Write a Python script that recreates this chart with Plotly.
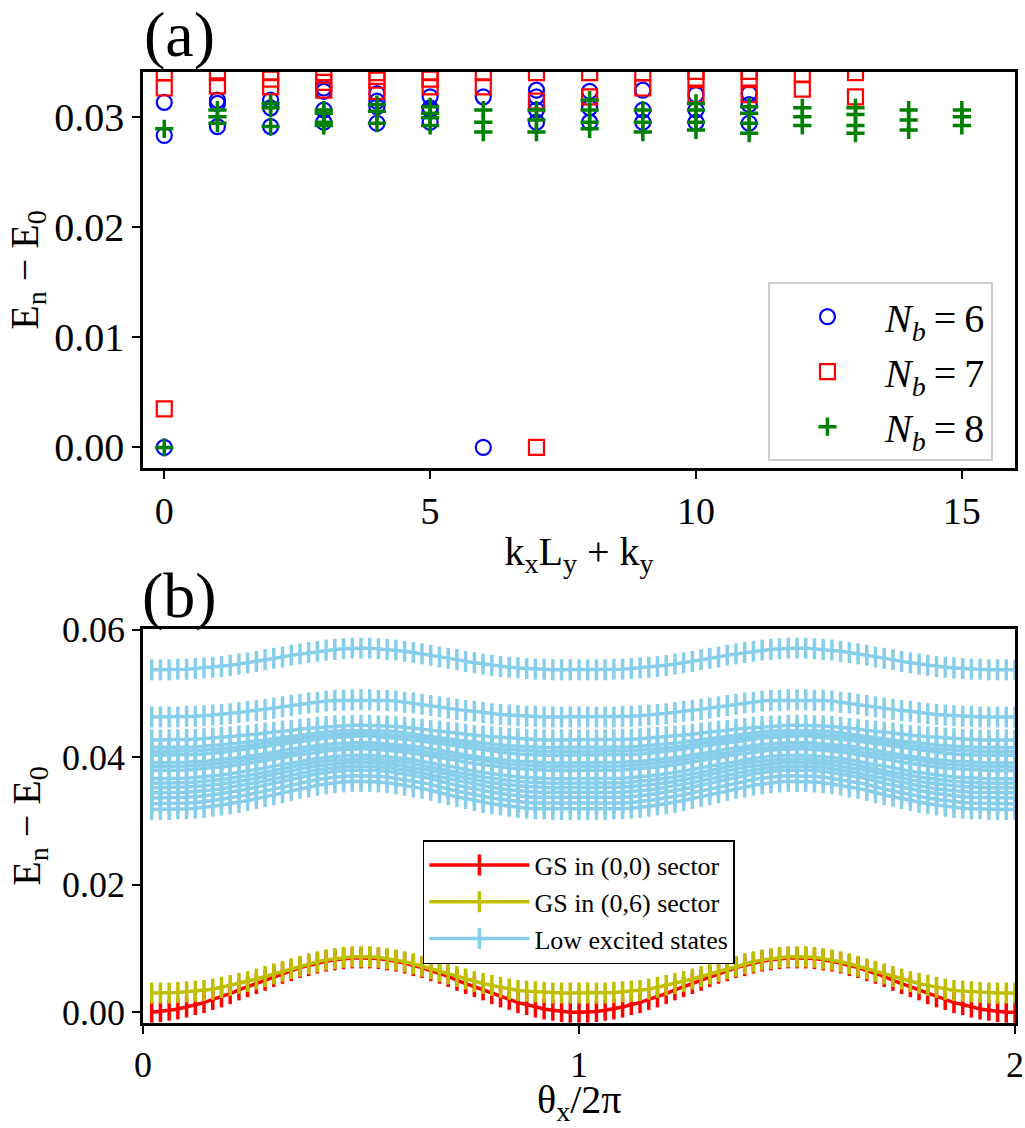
import plotly.graph_objects as go

# ---------------- Panel (a): E_n - E_0 vs k_x L_y + k_y ----------------
k_nb6 = [0, 0, 0, 1, 1, 1, 2, 2, 2, 3, 3, 3, 3, 4, 4, 4, 4, 5, 5, 5, 5, 6, 6,
         7, 7, 7, 7, 8, 8, 8, 9, 9, 9, 10, 10, 10, 11, 11, 11]
e_nb6 = [0.0313, 0.0283, 0.0000, 0.0315, 0.0312, 0.0291, 0.0315, 0.0308, 0.0291,
         0.0326, 0.0323, 0.0306, 0.0295, 0.0321, 0.0314, 0.0309, 0.0294,
         0.0318, 0.0308, 0.0306, 0.0295, 0.0318, 0.0000,
         0.0324, 0.0318, 0.0306, 0.0295, 0.0323, 0.0308, 0.0295,
         0.0324, 0.0306, 0.0295, 0.0320, 0.0306, 0.0295, 0.0321, 0.0311, 0.0294]

k_nb7 = [0, 0, 0, 1, 1, 2, 2, 2, 3, 3, 3, 4, 4, 4, 5, 5, 5, 6, 6, 7, 7, 7,
         8, 8, 9, 9, 10, 10, 10, 11, 11, 11, 12, 12, 13, 13]
e_nb7 = [0.0340, 0.0326, 0.0035, 0.0340, 0.0328, 0.0340, 0.0334, 0.0327,
         0.0340, 0.0331, 0.0324, 0.0340, 0.0333, 0.0323, 0.0340, 0.0334, 0.0327,
         0.0340, 0.0327, 0.0340, 0.0314, 0.0000, 0.0340, 0.0318, 0.0340, 0.0326,
         0.0341, 0.0335, 0.0320, 0.0341, 0.0335, 0.0320, 0.0338, 0.0325,
         0.0340, 0.0318]

k_nb8 = [0, 0, 1, 1, 1, 2, 2, 2, 3, 3, 3, 3, 4, 4, 4, 5, 5, 5, 5, 6, 6, 6,
         7, 7, 7, 8, 8, 8, 8, 9, 9, 9, 10, 10, 10, 10, 11, 11, 11, 11,
         12, 12, 12, 13, 13, 13, 13, 14, 14, 14, 15, 15, 15]
e_nb8 = [0.0289, 0.0000, 0.0306, 0.0300, 0.0294, 0.0312, 0.0308, 0.0291,
         0.0306, 0.0303, 0.0295, 0.0292, 0.0311, 0.0305, 0.0294,
         0.0309, 0.0303, 0.0299, 0.0292, 0.0306, 0.0295, 0.0286,
         0.0306, 0.0297, 0.0286, 0.0315, 0.0306, 0.0295, 0.0289,
         0.0306, 0.0295, 0.0286, 0.0312, 0.0306, 0.0295, 0.0288,
         0.0309, 0.0303, 0.0294, 0.0285, 0.0308, 0.0300, 0.0292,
         0.0308, 0.0302, 0.0292, 0.0285, 0.0306, 0.0297, 0.0288,
         0.0306, 0.0300, 0.0292]

# ---------------- Panel (b): E_n - E_0 vs theta_x / 2pi ----------------
# flux points theta_x/2pi = 0.02, 0.04, ..., 2.00
theta = [round(0.02 * i, 2) for i in range(1, 101)]

# energies, in units of 1e-4
gs_00 = [0, 1, 3, 5, 8, 12, 15, 20, 24, 29, 35, 40, 45, 50, 56, 61, 65, 70, 73, 77, 80, 82, 84, 85, 85,
         85, 84, 82, 80, 77, 73, 70, 65, 61, 56, 50, 45, 40, 35, 29, 24, 20, 15, 12, 8, 5, 3, 1, 0, 0,
         0, 1, 3, 5, 8, 12, 15, 20, 24, 29, 35, 40, 45, 50, 56, 61, 65, 70, 73, 77, 80, 82, 84, 85, 85,
         85, 84, 82, 80, 77, 73, 70, 65, 61, 56, 50, 45, 40, 35, 29, 24, 20, 15, 12, 8, 5, 3, 1, 0, 0]
gs_06 = [30, 30, 30, 31, 32, 33, 34, 36, 39, 42, 45, 48, 52, 56, 60, 64, 68, 72, 76, 79, 82, 84, 86, 87, 87,
         87, 86, 84, 82, 79, 76, 72, 68, 64, 60, 56, 52, 48, 45, 42, 39, 36, 34, 33, 32, 31, 30, 30, 30, 30,
         30, 30, 30, 31, 32, 33, 34, 36, 39, 42, 45, 48, 52, 56, 60, 64, 68, 72, 76, 79, 82, 84, 86, 87, 87,
         87, 86, 84, 82, 79, 76, 72, 68, 64, 60, 56, 52, 48, 45, 42, 39, 36, 34, 33, 32, 31, 30, 30, 30, 30]
exc_1 = [537, 537, 537, 538, 538, 539, 540, 541, 542, 544, 546, 548, 550, 553, 555, 557, 560, 562, 564, 566, 568, 569, 570, 571, 571,
         571, 570, 569, 568, 566, 564, 562, 560, 557, 555, 553, 550, 548, 546, 544, 542, 541, 540, 539, 538, 538, 537, 537, 537, 537,
         537, 537, 537, 538, 538, 539, 540, 541, 542, 544, 546, 548, 550, 553, 555, 557, 560, 562, 564, 566, 568, 569, 570, 571, 571,
         571, 570, 569, 568, 566, 564, 562, 560, 557, 555, 553, 550, 548, 546, 544, 542, 541, 540, 539, 538, 538, 537, 537, 537, 537]
exc_2 = [463, 463, 463, 463, 464, 464, 465, 466, 467, 468, 470, 472, 473, 475, 477, 479, 481, 483, 485, 486, 488, 489, 489, 490, 490,
         490, 489, 489, 488, 486, 485, 483, 481, 479, 477, 475, 473, 472, 470, 468, 467, 466, 465, 464, 464, 463, 463, 463, 463, 463,
         463, 463, 463, 463, 464, 464, 465, 466, 467, 468, 470, 472, 473, 475, 477, 479, 481, 483, 485, 486, 488, 489, 489, 490, 490,
         490, 489, 489, 488, 486, 485, 483, 481, 479, 477, 475, 473, 472, 470, 468, 467, 466, 465, 464, 464, 463, 463, 463, 463, 463]
exc_3 = [427, 427, 427, 427, 428, 428, 429, 430, 431, 432, 433, 434, 436, 438, 439, 441, 442, 444, 445, 447, 448, 449, 449, 450, 450,
         450, 449, 449, 448, 447, 445, 444, 442, 441, 439, 438, 436, 434, 433, 432, 431, 430, 429, 428, 428, 427, 427, 427, 427, 427,
         427, 427, 427, 427, 428, 428, 429, 430, 431, 432, 433, 434, 436, 438, 439, 441, 442, 444, 445, 447, 448, 449, 449, 450, 450,
         450, 449, 449, 448, 447, 445, 444, 442, 441, 439, 438, 436, 434, 433, 432, 431, 430, 429, 428, 428, 427, 427, 427, 427, 427]
exc_4 = [415, 415, 415, 415, 416, 416, 417, 418, 419, 420, 422, 424, 425, 427, 429, 431, 433, 435, 437, 438, 440, 441, 441, 442, 442,
         442, 441, 441, 440, 438, 437, 435, 433, 431, 429, 427, 425, 424, 422, 420, 419, 418, 417, 416, 416, 415, 415, 415, 415, 415,
         415, 415, 415, 415, 416, 416, 417, 418, 419, 420, 422, 424, 425, 427, 429, 431, 433, 435, 437, 438, 440, 441, 441, 442, 442,
         442, 441, 441, 440, 438, 437, 435, 433, 431, 429, 427, 425, 424, 422, 420, 419, 418, 417, 416, 416, 415, 415, 415, 415, 415]
exc_5 = [409, 409, 409, 409, 410, 410, 411, 412, 413, 415, 416, 418, 420, 422, 424, 426, 428, 430, 432, 433, 434, 436, 436, 437, 437,
         437, 436, 436, 434, 433, 432, 430, 428, 426, 424, 422, 420, 418, 416, 415, 413, 412, 411, 410, 410, 409, 409, 409, 409, 409,
         409, 409, 409, 409, 410, 410, 411, 412, 413, 415, 416, 418, 420, 422, 424, 426, 428, 430, 432, 433, 434, 436, 436, 437, 437,
         437, 436, 436, 434, 433, 432, 430, 428, 426, 424, 422, 420, 418, 416, 415, 413, 412, 411, 410, 410, 409, 409, 409, 409, 409]
exc_6 = [403, 403, 403, 403, 404, 404, 405, 406, 408, 409, 411, 413, 415, 417, 419, 421, 423, 425, 427, 429, 430, 431, 432, 433, 433,
         433, 432, 431, 430, 429, 427, 425, 423, 421, 419, 417, 415, 413, 411, 409, 408, 406, 405, 404, 404, 403, 403, 403, 403, 403,
         403, 403, 403, 403, 404, 404, 405, 406, 408, 409, 411, 413, 415, 417, 419, 421, 423, 425, 427, 429, 430, 431, 432, 433, 433,
         433, 432, 431, 430, 429, 427, 425, 423, 421, 419, 417, 415, 413, 411, 409, 408, 406, 405, 404, 404, 403, 403, 403, 403, 403]
exc_7 = [391, 391, 391, 391, 392, 393, 393, 395, 396, 397, 399, 401, 403, 406, 408, 410, 413, 415, 417, 419, 420, 421, 422, 423, 423,
         423, 422, 421, 420, 419, 417, 415, 413, 410, 408, 406, 403, 401, 399, 397, 396, 395, 393, 393, 392, 391, 391, 391, 391, 391,
         391, 391, 391, 391, 392, 393, 393, 395, 396, 397, 399, 401, 403, 406, 408, 410, 413, 415, 417, 419, 420, 421, 422, 423, 423,
         423, 422, 421, 420, 419, 417, 415, 413, 410, 408, 406, 403, 401, 399, 397, 396, 395, 393, 393, 392, 391, 391, 391, 391, 391]
exc_8 = [385, 385, 385, 386, 386, 387, 388, 389, 390, 392, 394, 396, 398, 400, 402, 405, 407, 409, 412, 413, 415, 416, 417, 418, 418,
         418, 417, 416, 415, 413, 412, 409, 407, 405, 402, 400, 398, 396, 394, 392, 390, 389, 388, 387, 386, 386, 385, 385, 385, 385,
         385, 385, 385, 386, 386, 387, 388, 389, 390, 392, 394, 396, 398, 400, 402, 405, 407, 409, 412, 413, 415, 416, 417, 418, 418,
         418, 417, 416, 415, 413, 412, 409, 407, 405, 402, 400, 398, 396, 394, 392, 390, 389, 388, 387, 386, 386, 385, 385, 385, 385]
exc_9 = [379, 379, 379, 380, 380, 381, 382, 383, 384, 386, 388, 390, 392, 395, 397, 399, 402, 404, 406, 408, 410, 411, 412, 413, 413,
         413, 412, 411, 410, 408, 406, 404, 402, 399, 397, 395, 392, 390, 388, 386, 384, 383, 382, 381, 380, 380, 379, 379, 379, 379,
         379, 379, 379, 380, 380, 381, 382, 383, 384, 386, 388, 390, 392, 395, 397, 399, 402, 404, 406, 408, 410, 411, 412, 413, 413,
         413, 412, 411, 410, 408, 406, 404, 402, 399, 397, 395, 392, 390, 388, 386, 384, 383, 382, 381, 380, 380, 379, 379, 379, 379]
exc_10 = [366, 366, 366, 367, 367, 368, 369, 370, 372, 374, 376, 378, 380, 383, 386, 388, 391, 393, 396, 398, 400, 401, 402, 403, 403,
          403, 402, 401, 400, 398, 396, 393, 391, 388, 386, 383, 380, 378, 376, 374, 372, 370, 369, 368, 367, 367, 366, 366, 366, 366,
          366, 366, 366, 367, 367, 368, 369, 370, 372, 374, 376, 378, 380, 383, 386, 388, 391, 393, 396, 398, 400, 401, 402, 403, 403,
          403, 402, 401, 400, 398, 396, 393, 391, 388, 386, 383, 380, 378, 376, 374, 372, 370, 369, 368, 367, 367, 366, 366, 366, 366]
exc_11 = [359, 359, 359, 360, 360, 361, 362, 363, 365, 367, 369, 371, 374, 376, 379, 382, 385, 387, 390, 392, 394, 395, 396, 397, 397,
          397, 396, 395, 394, 392, 390, 387, 385, 382, 379, 376, 374, 371, 369, 367, 365, 363, 362, 361, 360, 360, 359, 359, 359, 359,
          359, 359, 359, 360, 360, 361, 362, 363, 365, 367, 369, 371, 374, 376, 379, 382, 385, 387, 390, 392, 394, 395, 396, 397, 397,
          397, 396, 395, 394, 392, 390, 387, 385, 382, 379, 376, 374, 371, 369, 367, 365, 363, 362, 361, 360, 360, 359, 359, 359, 359]
exc_12 = [352, 352, 352, 353, 353, 354, 355, 356, 358, 360, 362, 365, 367, 370, 373, 376, 379, 382, 384, 386, 388, 390, 391, 392, 392,
          392, 391, 390, 388, 386, 384, 382, 379, 376, 373, 370, 367, 365, 362, 360, 358, 356, 355, 354, 353, 353, 352, 352, 352, 352,
          352, 352, 352, 353, 353, 354, 355, 356, 358, 360, 362, 365, 367, 370, 373, 376, 379, 382, 384, 386, 388, 390, 391, 392, 392,
          392, 391, 390, 388, 386, 384, 382, 379, 376, 373, 370, 367, 365, 362, 360, 358, 356, 355, 354, 353, 353, 352, 352, 352, 352]
exc_13 = [344, 344, 344, 345, 345, 346, 347, 349, 350, 353, 355, 357, 360, 363, 366, 369, 372, 375, 378, 380, 382, 384, 385, 386, 386,
          386, 385, 384, 382, 380, 378, 375, 372, 369, 366, 363, 360, 357, 355, 353, 350, 349, 347, 346, 345, 345, 344, 344, 344, 344,
          344, 344, 344, 345, 345, 346, 347, 349, 350, 353, 355, 357, 360, 363, 366, 369, 372, 375, 378, 380, 382, 384, 385, 386, 386,
          386, 385, 384, 382, 380, 378, 375, 372, 369, 366, 363, 360, 357, 355, 353, 350, 349, 347, 346, 345, 345, 344, 344, 344, 344]
exc_14 = [336, 336, 336, 337, 337, 338, 339, 341, 343, 345, 347, 350, 353, 356, 359, 362, 366, 369, 371, 374, 376, 378, 379, 380, 380,
          380, 379, 378, 376, 374, 371, 369, 366, 362, 359, 356, 353, 350, 347, 345, 343, 341, 339, 338, 337, 337, 336, 336, 336, 336,
          336, 336, 336, 337, 337, 338, 339, 341, 343, 345, 347, 350, 353, 356, 359, 362, 366, 369, 371, 374, 376, 378, 379, 380, 380,
          380, 379, 378, 376, 374, 371, 369, 366, 362, 359, 356, 353, 350, 347, 345, 343, 341, 339, 338, 337, 337, 336, 336, 336, 336]
exc_15 = [327, 327, 327, 328, 328, 329, 330, 332, 334, 336, 338, 341, 344, 347, 350, 353, 357, 360, 362, 365, 367, 369, 370, 371, 371,
          371, 370, 369, 367, 365, 362, 360, 357, 353, 350, 347, 344, 341, 338, 336, 334, 332, 330, 329, 328, 328, 327, 327, 327, 327,
          327, 327, 327, 328, 328, 329, 330, 332, 334, 336, 338, 341, 344, 347, 350, 353, 357, 360, 362, 365, 367, 369, 370, 371, 371,
          371, 370, 369, 367, 365, 362, 360, 357, 353, 350, 347, 344, 341, 338, 336, 334, 332, 330, 329, 328, 328, 327, 327, 327, 327]
exc_16 = [318, 318, 318, 319, 319, 320, 321, 323, 325, 327, 329, 332, 335, 338, 341, 344, 348, 351, 353, 356, 358, 360, 361, 362, 362,
          362, 361, 360, 358, 356, 353, 351, 348, 344, 341, 338, 335, 332, 329, 327, 325, 323, 321, 320, 319, 319, 318, 318, 318, 318,
          318, 318, 318, 319, 319, 320, 321, 323, 325, 327, 329, 332, 335, 338, 341, 344, 348, 351, 353, 356, 358, 360, 361, 362, 362,
          362, 361, 360, 358, 356, 353, 351, 348, 344, 341, 338, 335, 332, 329, 327, 325, 323, 321, 320, 319, 319, 318, 318, 318, 318]
excited = [exc_1, exc_2, exc_3, exc_4, exc_5, exc_6, exc_7, exc_8,
           exc_9, exc_10, exc_11, exc_12, exc_13, exc_14, exc_15, exc_16]
UNIT = 1e-4

# ---------------- figure ----------------
FONT = "Liberation Serif"
fig = go.Figure()

# panel (a)
fig.add_trace(go.Scatter(
    x=k_nb6, y=e_nb6, mode="markers", name="<i>N</i><sub><i>b</i></sub>\u2009=\u20096",
    marker=dict(symbol="circle-open", size=15, color="#0000ff", line=dict(width=2.2, color="#0000ff")),
    xaxis="x", yaxis="y", legend="legend"))
fig.add_trace(go.Scatter(
    x=k_nb7, y=e_nb7, mode="markers", name="<i>N</i><sub><i>b</i></sub>\u2009=\u20097",
    marker=dict(symbol="square-open", size=15, color="#ff0000", line=dict(width=2.2, color="#ff0000")),
    xaxis="x", yaxis="y", legend="legend"))
fig.add_trace(go.Scatter(
    x=k_nb8, y=e_nb8, mode="markers", name="<i>N</i><sub><i>b</i></sub>\u2009=\u20098",
    marker=dict(symbol="cross-thin", size=13, color="#008000", line=dict(width=3.5, color="#008000")),
    xaxis="x", yaxis="y", legend="legend"))

# panel (b)
def curve(vals, color, name, show):
    return go.Scatter(
        x=theta, y=[v * UNIT for v in vals], mode="lines+markers", name=name,
        showlegend=show, line=dict(color=color, width=3.5),
        marker=dict(symbol="line-ns", size=15, color=color, line=dict(width=3.5, color=color)),
        xaxis="x2", yaxis="y2", legend="legend2")

fig.add_trace(curve(gs_00, "#ff0000", "GS in (0,0) sector", True))
fig.add_trace(curve(gs_06, "#bfbf00", "GS in (0,6) sector", True))
for i, ex in enumerate(excited):
    fig.add_trace(curve(ex, "#87ceeb", "Low excited states", i == 0))

axis_style = dict(showline=True, linewidth=2.5, linecolor="black", mirror=True,
                  ticks="outside", ticklen=8, tickwidth=2, tickcolor="black",
                  showgrid=False, zeroline=False, automargin=False)

fig.update_layout(
    width=1025, height=1128,
    margin=dict(l=143, r=10, t=72, b=105),
    paper_bgcolor="white", plot_bgcolor="white",
    font=dict(family=FONT, color="black", size=36),
    xaxis=dict(domain=[0, 1], anchor="y", range=[-0.4, 16], tickvals=[0, 5, 10, 15],
               tickfont=dict(size=38),
               title=dict(text="k<sub>x</sub>L<sub>y</sub> + k<sub>y</sub>", font=dict(size=40), standoff=6),
               **axis_style),
    yaxis=dict(domain=[0.5836, 1], anchor="x", range=[-0.00187, 0.03405],
               tickvals=[0, 0.01, 0.02, 0.03], tickformat=".2f", tickfont=dict(size=40),
               title=dict(text="E<sub>n</sub> \u2212 E<sub>0</sub>", font=dict(size=40), standoff=4),
               **axis_style),
    xaxis2=dict(domain=[0, 1], anchor="y2", range=[0, 2], tickvals=[0, 1, 2],
                tickfont=dict(size=36),
                **axis_style),
    yaxis2=dict(domain=[0, 0.4143], anchor="x2", range=[-0.0017, 0.0601],
                tickvals=[0, 0.02, 0.04, 0.06], tickformat=".2f", tickfont=dict(size=36),
                title=dict(text="E<sub>n</sub> \u2212 E<sub>0</sub>", font=dict(size=40), standoff=10),
                **axis_style),
    legend=dict(x=0.7167, y=0.779, xanchor="left", yanchor="top",
                bgcolor="white", bordercolor="#cccccc", borderwidth=2,
                font=dict(family=FONT, size=40), itemwidth=105, tracegroupgap=0),
    legend2=dict(x=0.321, y=0.1924, xanchor="left", yanchor="top",
                 bgcolor="white", bordercolor="black", borderwidth=1.5,
                 font=dict(family=FONT, size=26), itemwidth=100, tracegroupgap=0),
    annotations=[
        dict(text="(a)", x=0.042, y=1.039, xref="paper", yref="paper",
             xanchor="center", yanchor="middle", showarrow=False, font=dict(size=64)),
        dict(text="(b)", x=0.042, y=0.450, xref="paper", yref="paper",
             xanchor="center", yanchor="middle", showarrow=False, font=dict(size=64)),
        # x-axis title of panel (b)
        dict(text="\u03b8<sub>x</sub>/2\u03c0", x=0.5, y=-0.083, xref="paper", yref="paper",
             xanchor="center", yanchor="middle", showarrow=False, font=dict(size=40)),
    ],
)

fig.write_html("out.html")
